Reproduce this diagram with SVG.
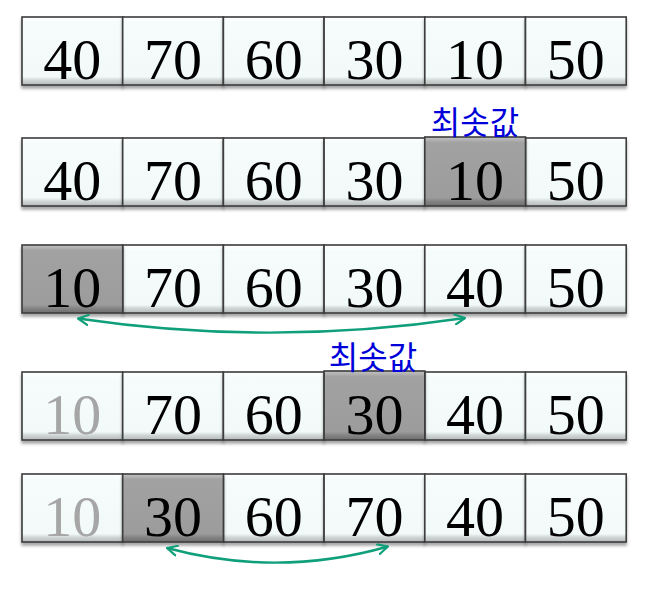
<svg xmlns="http://www.w3.org/2000/svg" width="649" height="595" viewBox="0 0 649 595">
<defs>
<linearGradient id="gW" x1="0" y1="0" x2="0" y2="1">
<stop offset="0" stop-color="#ffffff"/><stop offset="0.08" stop-color="#f6fcfc"/><stop offset="0.88" stop-color="#f2f9f9"/><stop offset="0.93" stop-color="#d0d6d6"/><stop offset="1" stop-color="#b4baba"/>
</linearGradient>
<linearGradient id="gG" x1="0" y1="0" x2="0" y2="1">
<stop offset="0" stop-color="#c4c4c4"/><stop offset="0.08" stop-color="#a2a2a2"/><stop offset="0.88" stop-color="#9c9c9c"/><stop offset="0.93" stop-color="#848484"/><stop offset="1" stop-color="#6e6e6e"/>
</linearGradient>
<filter id="sh" x="-10%" y="-10%" width="120%" height="130%">
<feDropShadow dx="0" dy="3" stdDeviation="1.8" flood-color="#000" flood-opacity="0.35"/>
</filter>
<marker id="ah" viewBox="0 0 12 12" refX="11" refY="6" markerWidth="12" markerHeight="12" markerUnits="userSpaceOnUse" orient="auto-start-reverse">
<path d="M1,1 L11,6 L1,11" fill="none" stroke="#0f9f7a" stroke-width="2.2" stroke-linecap="round" stroke-linejoin="round"/>
</marker>
</defs>
<style>
.b{fill:url(#gW);stroke:#3c3c3c;stroke-width:1.6;filter:url(#sh)}
.g{fill:url(#gG);stroke:#3c3c3c;stroke-width:1.6;filter:url(#sh)}
.t{font-family:"Liberation Serif","Times New Roman",serif;font-size:58px;fill:#000;text-anchor:middle}
.d{fill:#a6a6a6}
.k{font-family:"Noto Sans CJK KR",sans-serif;font-size:32px;fill:#0000d8;text-anchor:middle}
.c{fill:none;stroke:#0f9f7a;stroke-width:2.4;marker-start:url(#ah);marker-end:url(#ah)}
</style>
<rect width="649" height="595" fill="#ffffff"/>

<g id="row1">
<g id="r1c1"><rect class="b" x="22" y="17" width="100.7" height="68"/><text class="t" x="72.3" y="78.5">40</text></g>
<g id="r1c2"><rect class="b" x="122.7" y="17" width="100.7" height="68"/><text class="t" x="173" y="78.5">70</text></g>
<g id="r1c3"><rect class="b" x="223.4" y="17" width="100.7" height="68"/><text class="t" x="273.7" y="78.5">60</text></g>
<g id="r1c4"><rect class="b" x="324.1" y="17" width="100.7" height="68"/><text class="t" x="374.4" y="78.5">30</text></g>
<g id="r1c5"><rect class="b" x="424.8" y="17" width="100.7" height="68"/><text class="t" x="475.1" y="78.5">10</text></g>
<g id="r1c6"><rect class="b" x="525.5" y="17" width="100.7" height="68"/><text class="t" x="575.8" y="78.5">50</text></g>
</g>

<g id="row2">
<g id="r2c1"><rect class="b" x="22" y="138" width="100.7" height="68"/><text class="t" x="72.3" y="199.5">40</text></g>
<g id="r2c2"><rect class="b" x="122.7" y="138" width="100.7" height="68"/><text class="t" x="173" y="199.5">70</text></g>
<g id="r2c3"><rect class="b" x="223.4" y="138" width="100.7" height="68"/><text class="t" x="273.7" y="199.5">60</text></g>
<g id="r2c4"><rect class="b" x="324.1" y="138" width="100.7" height="68"/><text class="t" x="374.4" y="199.5">30</text></g>
<g id="r2c6"><rect class="b" x="525.5" y="138" width="100.7" height="68"/><text class="t" x="575.8" y="199.5">50</text></g>
<g id="r2c5"><rect class="g" x="424.8" y="137" width="100.7" height="69"/><text class="t" x="475.1" y="199.5">10</text></g>
<g id="label1"><text class="k" x="475" y="134">최솟값</text></g>
</g>

<g id="row3">
<g id="r3c2"><rect class="b" x="122.7" y="245" width="100.7" height="68"/><text class="t" x="173" y="306.5">70</text></g>
<g id="r3c3"><rect class="b" x="223.4" y="245" width="100.7" height="68"/><text class="t" x="273.7" y="306.5">60</text></g>
<g id="r3c4"><rect class="b" x="324.1" y="245" width="100.7" height="68"/><text class="t" x="374.4" y="306.5">30</text></g>
<g id="r3c5"><rect class="b" x="424.8" y="245" width="100.7" height="68"/><text class="t" x="475.1" y="306.5">40</text></g>
<g id="r3c6"><rect class="b" x="525.5" y="245" width="100.7" height="68"/><text class="t" x="575.8" y="306.5">50</text></g>
<g id="r3c1"><rect class="g" x="22" y="245" width="100.7" height="68"/><text class="t" x="72.3" y="306.5">10</text></g>
</g>

<g id="row4">
<g id="r4c1"><rect class="b" x="22" y="372" width="100.7" height="68"/><text class="t d" x="72.3" y="433.5">10</text></g>
<g id="r4c2"><rect class="b" x="122.7" y="372" width="100.7" height="68"/><text class="t" x="173" y="433.5">70</text></g>
<g id="r4c3"><rect class="b" x="223.4" y="372" width="100.7" height="68"/><text class="t" x="273.7" y="433.5">60</text></g>
<g id="r4c5"><rect class="b" x="424.8" y="372" width="100.7" height="68"/><text class="t" x="475.1" y="433.5">40</text></g>
<g id="r4c6"><rect class="b" x="525.5" y="372" width="100.7" height="68"/><text class="t" x="575.8" y="433.5">50</text></g>
<g id="r4c4"><rect class="g" x="324.1" y="371" width="100.7" height="69"/><text class="t" x="374.4" y="433.5">30</text></g>
<g id="label2"><text class="k" x="373" y="369">최솟값</text></g>
</g>

<g id="row5">
<g id="r5c1"><rect class="b" x="22" y="474" width="100.7" height="68"/><text class="t d" x="72.3" y="535.5">10</text></g>
<g id="r5c3"><rect class="b" x="223.4" y="474" width="100.7" height="68"/><text class="t" x="273.7" y="535.5">60</text></g>
<g id="r5c4"><rect class="b" x="324.1" y="474" width="100.7" height="68"/><text class="t" x="374.4" y="535.5">70</text></g>
<g id="r5c5"><rect class="b" x="424.8" y="474" width="100.7" height="68"/><text class="t" x="475.1" y="535.5">40</text></g>
<g id="r5c6"><rect class="b" x="525.5" y="474" width="100.7" height="68"/><text class="t" x="575.8" y="535.5">50</text></g>
<g id="r5c2"><rect class="g" x="122.7" y="474" width="100.7" height="68"/><text class="t" x="173" y="535.5">30</text></g>
</g>

<g id="connectors">
<path class="c" d="M78,318.5 Q271,347 465,318"/>
<path class="c" d="M167,548 Q278,578 388,546.5"/>
</g>
</svg>
